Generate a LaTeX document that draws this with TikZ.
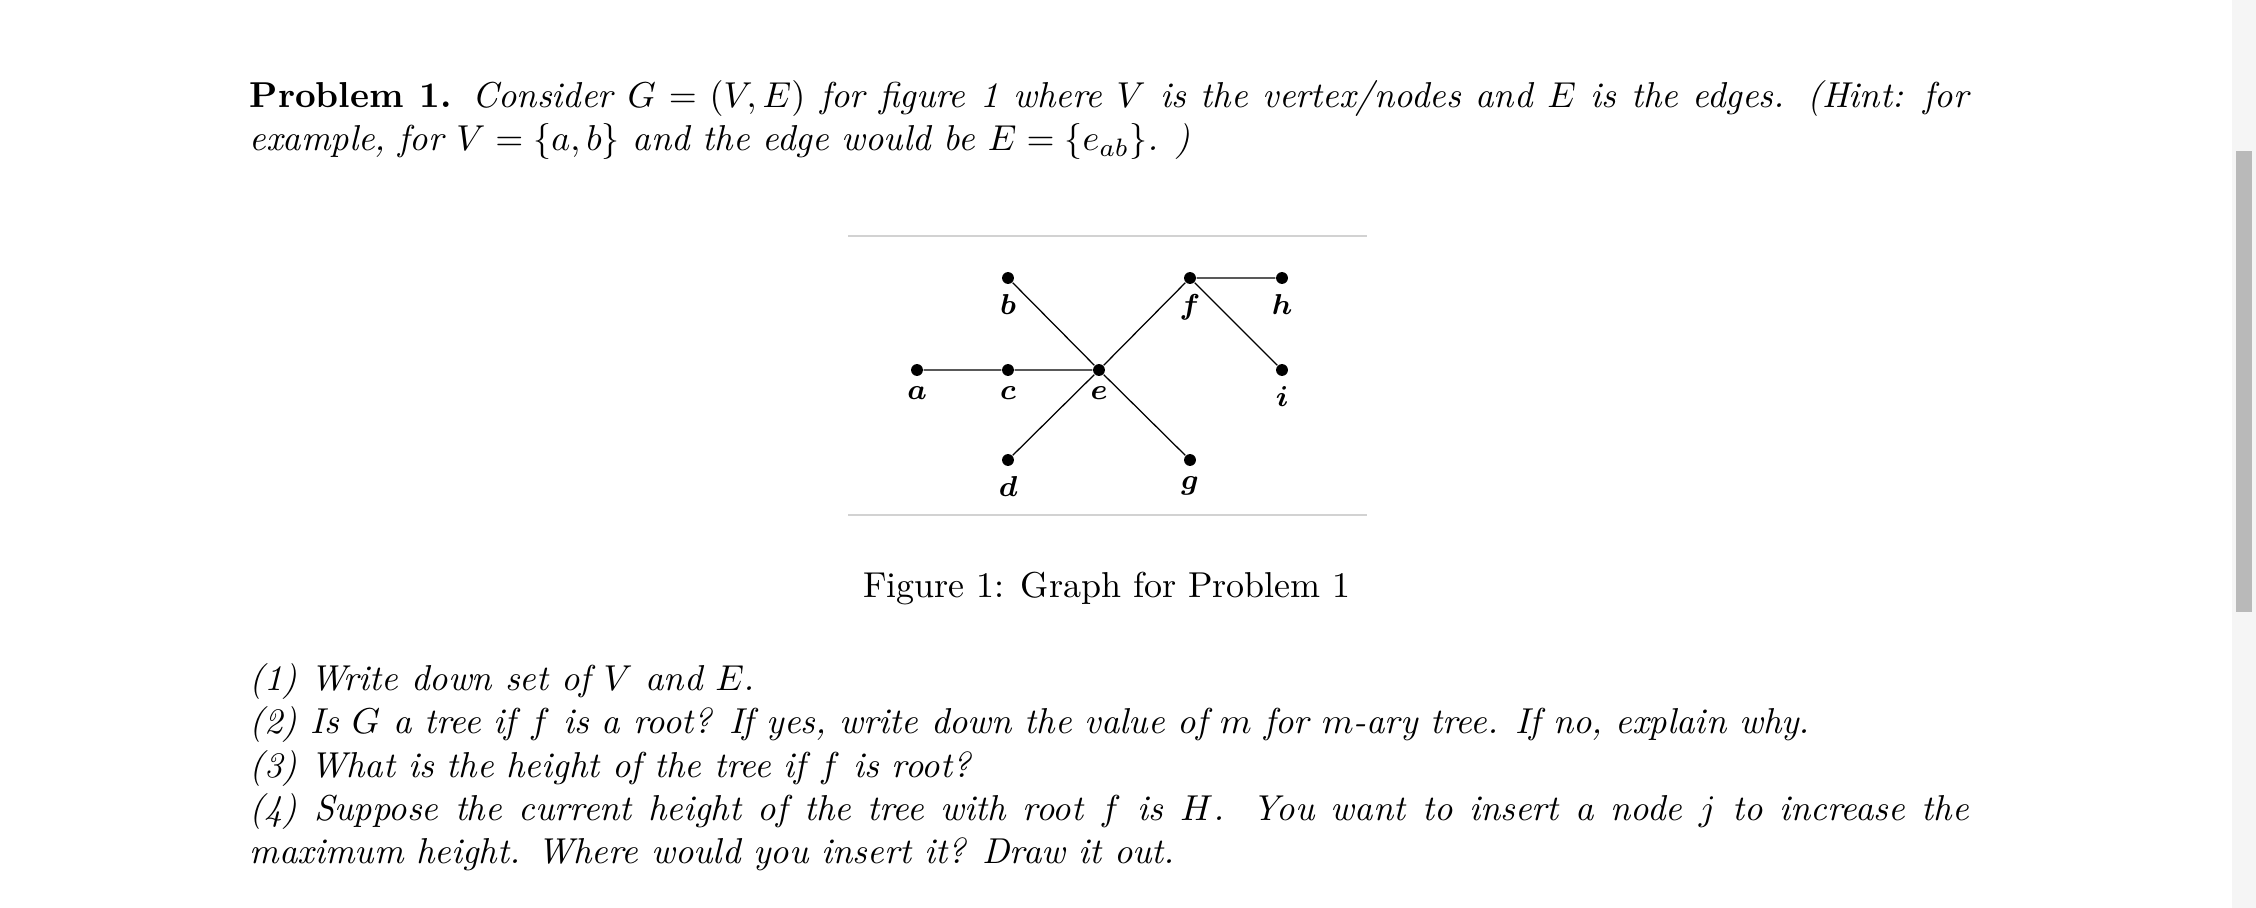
\documentclass[tikz,border=0pt]{standalone}
\usepackage{amsmath}
\begin{document}
\begin{tikzpicture}[x=0.2778pt,y=-0.2778pt,
  vtx/.style={circle,fill=black,inner sep=0pt,minimum size=3.3pt},
  lbl/.style={font=\footnotesize\boldmath,inner sep=0pt},
  edge/.style={line width=0.35pt},
  rulestyle/.style={draw=gray!35,line width=0.4pt}]
\useasboundingbox (0,0) rectangle (2256,908);
\fill[gray!8] (2232,0) rectangle (2256,908);
\fill[gray!55] (2236,151) rectangle (2252,612);
\node[anchor=north west,inner sep=0pt,text width=477.5pt,align=justify] (p1) at (249,80)
 {\textbf{Problem 1.} \textit{Consider $G=(V,E)$ for figure 1 where $V$ is the vertex/nodes and $E$ is the edges. (Hint: for example, for $V=\{a,b\}$ and the edge would be $E=\{e_{ab}\}$. )}};
\draw[rulestyle] (848,236) coordinate (r1a) -- (1367,236) coordinate (r1b);
\draw[rulestyle] (848,515) coordinate (r2a) -- (1367,515) coordinate (r2b);
\node[vtx] (a) at (917,370) {};
\node[vtx] (b) at (1008,278) {};
\node[vtx] (c) at (1008,370) {};
\node[vtx] (d) at (1008,460) {};
\node[vtx] (e) at (1099,370) {};
\node[vtx] (f) at (1190,278) {};
\node[vtx] (g) at (1190,460) {};
\node[vtx] (h) at (1282,278) {};
\node[vtx] (i) at (1282,370) {};
\foreach \n in {a,b,c,d,e,f,g,h,i}{\node[lbl,anchor=north] at ([yshift=-4.5pt]\n) {$\n$};}
\draw[edge] (a)--(c) (c)--(e) (b)--(e) (d)--(e) (e)--(g) (e)--(f) (f)--(h) (f)--(i);
\node[anchor=base,inner sep=0pt] (cap) at (1107,597) {Figure 1: Graph for Problem 1};
\node[anchor=north west,inner sep=0pt,text width=477.5pt,align=justify] (items) at (249,663)
 {\itshape (1) Write down set of $V$ and $E$.\\
 (2) Is $G$ a tree if $f$ is a root? If yes, write down the value of $m$ for $m$-ary tree. If no, explain why.\\
 (3) What is the height of the tree if $f$ is root?\\
 (4) Suppose the current height of the tree with root $f$ is $H$. You want to insert a node $j$ to increase the maximum height. Where would you insert it? Draw it out.};
\end{tikzpicture}
\end{document}
